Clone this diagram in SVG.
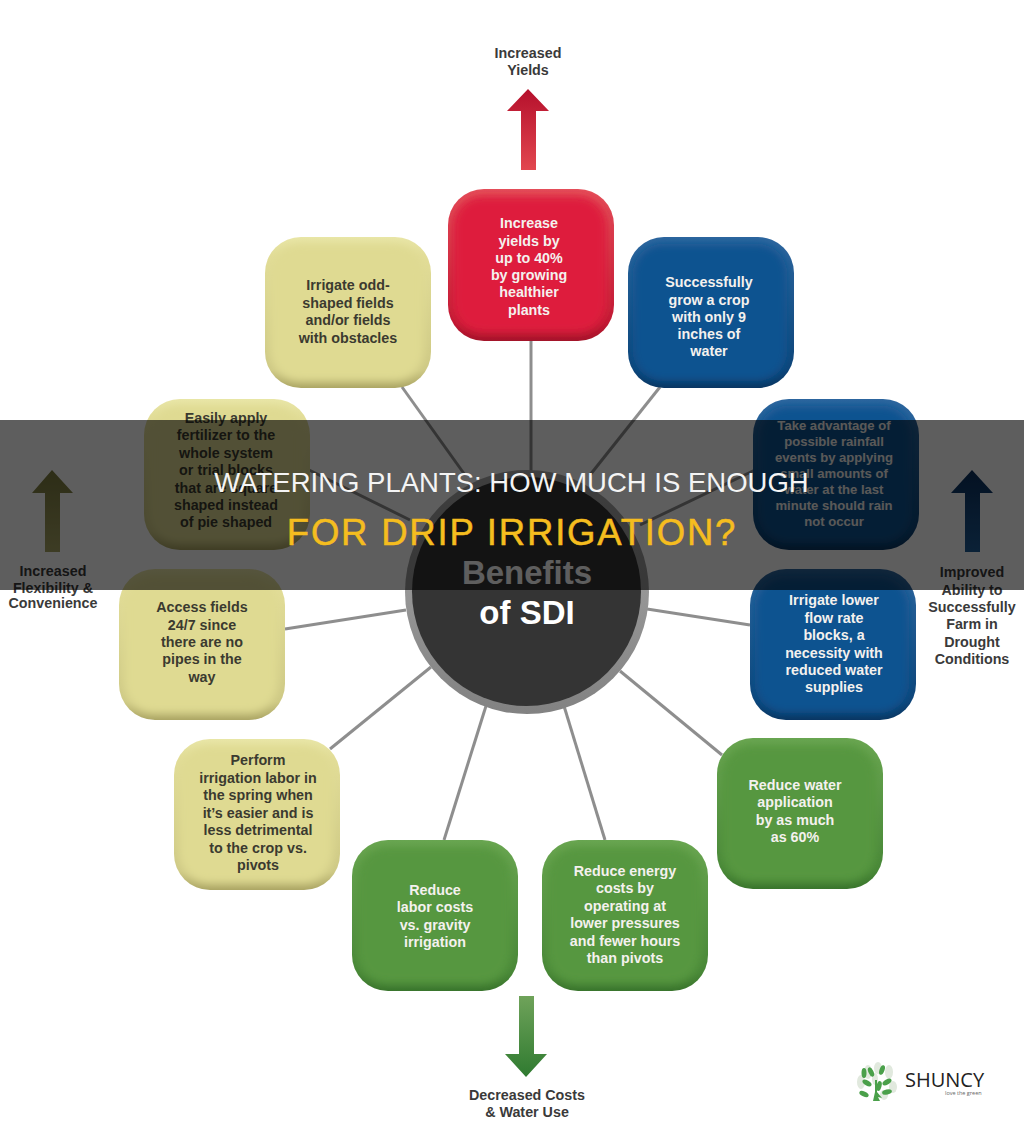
<svg xmlns="http://www.w3.org/2000/svg" width="1024" height="1126" viewBox="0 0 1024 1126">
<style>
.t{font-family:"Liberation Sans",Arial,sans-serif;font-weight:700;font-size:14.3px;text-anchor:middle}
.s{font-size:13.1px;font-weight:700}
.w{fill:#f4f1ee}.k{fill:#3b3a30}.l{fill:#3a3a3a}
.c{stroke:#8e8e8e;stroke-width:3;fill:none}
.ti{font-family:"Liberation Sans",Arial,sans-serif;text-anchor:middle}
</style>
<defs>
<filter id="b" x="-20%" y="-20%" width="140%" height="140%"><feGaussianBlur stdDeviation="4"/></filter>
<linearGradient id="ry" x1="0" y1="0" x2="0" y2="1"><stop offset="0" stop-color="#e9e6a8"/><stop offset=".12" stop-color="#e2dd98"/><stop offset=".88" stop-color="#cdc884"/><stop offset="1" stop-color="#aaa463"/></linearGradient>
<linearGradient id="rb" x1="0" y1="0" x2="0" y2="1"><stop offset="0" stop-color="#2f679f"/><stop offset=".88" stop-color="#0e4478"/><stop offset="1" stop-color="#0a3560"/></linearGradient>
<linearGradient id="rg" x1="0" y1="0" x2="0" y2="1"><stop offset="0" stop-color="#6aa651"/><stop offset=".88" stop-color="#478636"/><stop offset="1" stop-color="#38732b"/></linearGradient>
<linearGradient id="rr" x1="0" y1="0" x2="0" y2="1"><stop offset="0" stop-color="#e4525a"/><stop offset=".88" stop-color="#c01a33"/><stop offset="1" stop-color="#a31429"/></linearGradient>
<linearGradient id="au" x1="0" y1="0" x2="0" y2="1"><stop offset="0" stop-color="#b5102c"/><stop offset="1" stop-color="#e2474f"/></linearGradient>
<linearGradient id="ab" x1="0" y1="0" x2="0" y2="1"><stop offset="0" stop-color="#0b2f5c"/><stop offset="1" stop-color="#1d5a94"/></linearGradient>
<linearGradient id="ao" x1="0" y1="0" x2="0" y2="1"><stop offset="0" stop-color="#7a7a3e"/><stop offset="1" stop-color="#a5a263"/></linearGradient>
<linearGradient id="ag" x1="0" y1="0" x2="0" y2="1"><stop offset="0" stop-color="#6fa35a"/><stop offset="1" stop-color="#2f7a30"/></linearGradient>
<linearGradient id="ring" x1="0" y1="0" x2="0" y2="1"><stop offset="0" stop-color="#aaa"/><stop offset="1" stop-color="#828282"/></linearGradient>
<clipPath id="cn"><rect width="166" height="151" rx="36"/></clipPath>
</defs>
<rect width="1024" height="1126" fill="#fff"/>
<g id="connectors">
<line class="c" x1="531" y1="340" x2="531" y2="472"/>
<line class="c" x1="660" y1="387" x2="590" y2="475"/>
<line class="c" x1="755" y1="470" x2="640" y2="525"/>
<line class="c" x1="750" y1="625" x2="647" y2="609"/>
<line class="c" x1="722" y1="755" x2="620" y2="671"/>
<line class="c" x1="605" y1="840" x2="564" y2="706"/>
<line class="c" x1="444" y1="840" x2="486" y2="706"/>
<line class="c" x1="330" y1="749" x2="431" y2="667"/>
<line class="c" x1="285" y1="629" x2="406" y2="610"/>
<line class="c" x1="305" y1="468" x2="410" y2="520"/>
<line class="c" x1="402" y1="387" x2="465" y2="475"/>
</g>
<g id="center">
<circle cx="527" cy="592" r="122" fill="url(#ring)"/>
<circle cx="526.500" cy="591.500" r="114.500" fill="#343434"/>
<text x="527" y="584" text-anchor="middle" font-family="Liberation Sans,Arial,sans-serif" font-weight="700" font-size="33" fill="#fff">Benefits</text>
<text x="527" y="624" text-anchor="middle" font-family="Liberation Sans,Arial,sans-serif" font-weight="700" font-size="33" fill="#fff">of SDI</text>
</g>
<g id="node-yields" transform="translate(448,189)"><rect width="166" height="152" rx="36" fill="url(#rr)"/><g clip-path="url(#cn)"><rect x="5" y="7" width="154" height="137" rx="30" fill="#de1f3c" filter="url(#b)"/></g>
<text class="t w"><tspan x="81" y="39">Increase</tspan><tspan x="81" y="56.500">yields by</tspan><tspan x="81" y="74">up to 40%</tspan><tspan x="81" y="91">by growing</tspan><tspan x="81" y="108">healthier</tspan><tspan x="81" y="126">plants</tspan></text></g>
<g id="node-crop" transform="translate(628,237)"><rect width="166" height="151" rx="36" fill="url(#rb)"/><g clip-path="url(#cn)"><rect x="5" y="7" width="154" height="137" rx="30" fill="#105290" filter="url(#b)"/></g>
<text class="t w"><tspan x="81" y="50">Successfully</tspan><tspan x="81" y="67.500">grow a crop</tspan><tspan x="81" y="85">with only 9</tspan><tspan x="81" y="102">inches of</tspan><tspan x="81" y="119">water</tspan></text></g>
<g id="node-rain" transform="translate(753,399)"><rect width="166" height="151" rx="36" fill="url(#rb)"/><g clip-path="url(#cn)"><rect x="5" y="7" width="154" height="137" rx="30" fill="#105290" filter="url(#b)"/></g>
<text class="t w s"><tspan x="81" y="31">Take advantage of</tspan><tspan x="81" y="47">possible rainfall</tspan><tspan x="81" y="63">events by applying</tspan><tspan x="81" y="79">small amounts of</tspan><tspan x="81" y="95">water at the last</tspan><tspan x="81" y="111">minute should rain</tspan><tspan x="81" y="127">not occur</tspan></text></g>
<g id="node-flow" transform="translate(750,569)"><rect width="166" height="151" rx="36" fill="url(#rb)"/><g clip-path="url(#cn)"><rect x="5" y="7" width="154" height="137" rx="30" fill="#105290" filter="url(#b)"/></g>
<text class="t w"><tspan x="84" y="36">Irrigate lower</tspan><tspan x="84" y="54">flow rate</tspan><tspan x="84" y="71">blocks, a</tspan><tspan x="84" y="89">necessity with</tspan><tspan x="84" y="106">reduced water</tspan><tspan x="84" y="123">supplies</tspan></text></g>
<g id="node-water" transform="translate(717,738)"><rect width="166" height="151" rx="36" fill="url(#rg)"/><g clip-path="url(#cn)"><rect x="5" y="7" width="154" height="137" rx="30" fill="#56973f" filter="url(#b)"/></g>
<text class="t w"><tspan x="78" y="52">Reduce water</tspan><tspan x="78" y="69">application</tspan><tspan x="78" y="87">by as much</tspan><tspan x="78" y="104">as 60%</tspan></text></g>
<g id="node-energy" transform="translate(542,840)"><rect width="166" height="151" rx="36" fill="url(#rg)"/><g clip-path="url(#cn)"><rect x="5" y="7" width="154" height="137" rx="30" fill="#56973f" filter="url(#b)"/></g>
<text class="t w"><tspan x="83" y="36">Reduce energy</tspan><tspan x="83" y="53">costs by</tspan><tspan x="83" y="71">operating at</tspan><tspan x="83" y="88">lower pressures</tspan><tspan x="83" y="105.500">and fewer hours</tspan><tspan x="83" y="123">than pivots</tspan></text></g>
<g id="node-labor" transform="translate(352,840)"><rect width="166" height="151" rx="36" fill="url(#rg)"/><g clip-path="url(#cn)"><rect x="5" y="7" width="154" height="137" rx="30" fill="#56973f" filter="url(#b)"/></g>
<text class="t w"><tspan x="83" y="55">Reduce</tspan><tspan x="83" y="72">labor costs</tspan><tspan x="83" y="90">vs. gravity</tspan><tspan x="83" y="107">irrigation</tspan></text></g>
<g id="node-spring" transform="translate(174,739)"><rect width="166" height="151" rx="36" fill="url(#ry)"/><g clip-path="url(#cn)"><rect x="5" y="7" width="154" height="137" rx="30" fill="#dfda92" filter="url(#b)"/></g>
<text class="t k"><tspan x="84" y="26">Perform</tspan><tspan x="84" y="44">irrigation labor in</tspan><tspan x="84" y="61">the spring when</tspan><tspan x="84" y="79">it’s easier and is</tspan><tspan x="84" y="96">less detrimental</tspan><tspan x="84" y="113.500">to the crop vs.</tspan><tspan x="84" y="131">pivots</tspan></text></g>
<g id="node-access" transform="translate(119,569)"><rect width="166" height="151" rx="36" fill="url(#ry)"/><g clip-path="url(#cn)"><rect x="5" y="7" width="154" height="137" rx="30" fill="#dfda92" filter="url(#b)"/></g>
<text class="t k"><tspan x="83" y="43">Access fields</tspan><tspan x="83" y="60.500">24/7 since</tspan><tspan x="83" y="78">there are no</tspan><tspan x="83" y="95">pipes in the</tspan><tspan x="83" y="113">way</tspan></text></g>
<g id="node-fertilizer" transform="translate(144,399)"><rect width="166" height="151" rx="36" fill="url(#ry)"/><g clip-path="url(#cn)"><rect x="5" y="7" width="154" height="137" rx="30" fill="#dfda92" filter="url(#b)"/></g>
<text class="t k"><tspan x="82" y="24">Easily apply</tspan><tspan x="82" y="41">fertilizer to the</tspan><tspan x="82" y="59">whole system</tspan><tspan x="82" y="76">or trial blocks</tspan><tspan x="82" y="93.500">that are square</tspan><tspan x="82" y="111">shaped instead</tspan><tspan x="82" y="128">of pie shaped</tspan></text></g>
<g id="node-odd" transform="translate(265,237)"><rect width="166" height="151" rx="36" fill="url(#ry)"/><g clip-path="url(#cn)"><rect x="5" y="7" width="154" height="137" rx="30" fill="#dfda92" filter="url(#b)"/></g>
<text class="t k"><tspan x="83" y="53">Irrigate odd-</tspan><tspan x="83" y="71">shaped fields</tspan><tspan x="83" y="88">and/or fields</tspan><tspan x="83" y="106">with obstacles</tspan></text></g>
<g id="arrow-up"><polygon points="528,89 549,111 536,111 536,170 521,170 521,111 507,111" fill="url(#au)"/><text class="t l"><tspan x="528" y="58">Increased</tspan><tspan x="528" y="75">Yields</tspan></text></g>
<g id="arrow-left"><polygon points="52,470 73,493 60,493 60,552 45,552 45,493 32,493" fill="url(#ao)"/><text class="t l"><tspan x="53" y="576">Increased</tspan><tspan x="53" y="593">Flexibility &amp;</tspan><tspan x="53" y="608">Convenience</tspan></text></g>
<g id="arrow-right"><polygon points="972,470 993,493 980,493 980,552 965,552 965,493 951,493" fill="url(#ab)"/><text class="t l"><tspan x="972" y="577">Improved</tspan><tspan x="972" y="595">Ability to</tspan><tspan x="972" y="612">Successfully</tspan><tspan x="972" y="629">Farm in</tspan><tspan x="972" y="647">Drought</tspan><tspan x="972" y="664">Conditions</tspan></text></g>
<g id="arrow-down"><polygon points="526,1077 547,1054 534,1054 534,996 519,996 519,1054 505,1054" fill="url(#ag)"/><text class="t l"><tspan x="527" y="1100">Decreased Costs</tspan><tspan x="527" y="1117">&amp; Water Use</tspan></text></g>
<rect id="band" x="0" y="420" width="1024" height="170" fill="#000" opacity=".63"/>
<g id="title"><text class="ti" x="511.500" y="492" font-size="27.500" fill="#f4f4f4">WATERING PLANTS: HOW MUCH IS ENOUGH</text><text class="ti" x="512" y="545" font-size="36.500" letter-spacing="1.800" stroke="#f5bd1f" stroke-width=".5" fill="#f5bd1f">FOR DRIP IRRIGATION?</text></g>
<g id="logo">
<g fill="#e1e9de"><ellipse cx="868" cy="1072" rx="4" ry="7"/><ellipse cx="878" cy="1068" rx="4" ry="6"/><ellipse cx="889" cy="1072" rx="4" ry="7"/><ellipse cx="861" cy="1082" rx="4" ry="7"/><ellipse cx="893" cy="1087" rx="4" ry="6"/><ellipse cx="875" cy="1079" rx="3" ry="6"/><ellipse cx="884" cy="1095" rx="4" ry="5"/></g>
<g fill="#4aa04a"><ellipse cx="864" cy="1073" rx="2.500" ry="5"/><ellipse cx="871" cy="1072" rx="2.500" ry="5" transform="rotate(-25 871 1072)"/><ellipse cx="882" cy="1070" rx="2.500" ry="5" transform="rotate(20 882 1070)"/><ellipse cx="887" cy="1082" rx="5" ry="2.500" transform="rotate(-30 887 1082)"/><ellipse cx="879" cy="1086" rx="2.500" ry="5" transform="rotate(15 879 1086)"/><ellipse cx="867" cy="1083" rx="5" ry="2.500" transform="rotate(30 867 1083)"/><ellipse cx="864" cy="1094" rx="5" ry="2.500" transform="rotate(25 864 1094)"/><ellipse cx="887" cy="1092" rx="5" ry="2.500" transform="rotate(-15 887 1092)"/></g>
<path d="M873 1101 L875 1092 L875 1080 L877 1080 L877 1092 L882 1098 L878 1097 L880 1101Z" fill="#4aa04a"/>
<text x="905" y="1087" font-family="Open Sans,Noto Sans,sans-serif" font-size="20" fill="#222">SHUNCY</text>
<text x="945" y="1095" font-family="Open Sans,Noto Sans,sans-serif" font-size="5.500" fill="#666">love the green</text>
</g>
</svg>
